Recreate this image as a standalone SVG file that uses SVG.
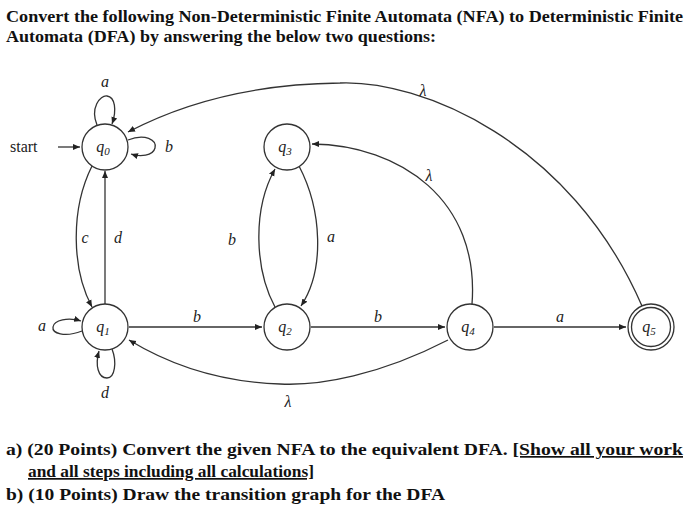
<svg xmlns="http://www.w3.org/2000/svg" width="695" height="515" viewBox="0 0 695 515">
<style>
.n{fill:#fff;stroke:#333;stroke-width:1.3}
.e{fill:none;stroke:#333;stroke-width:1.3}
.t{font-family:"Liberation Serif",serif;font-size:16px;font-style:italic;fill:#222;text-anchor:middle}
.h{font-family:"Liberation Serif",serif;font-size:17px;font-weight:bold;fill:#111}
</style>
<defs><marker id="ar" markerWidth="8" markerHeight="8" refX="7" refY="4" orient="auto" markerUnits="userSpaceOnUse"><path d="M0,1 L7,4 L0,7 z" fill="#222"/></marker></defs>
<rect width="695" height="515" fill="#fff"/>
<text class="h" x="6" y="22" textLength="677" lengthAdjust="spacingAndGlyphs">Convert the following Non-Deterministic Finite Automata (NFA) to Deterministic Finite</text>
<text class="h" x="6" y="42" textLength="430" lengthAdjust="spacingAndGlyphs">Automata (DFA) by answering the below two questions:</text>
<g id="connectors">
<path class="e" d="M58,147 L80,147" marker-end="url(#ar)"/>
<path class="e" d="M97,125 C90,108 100,95 107,96 C115,97 117,110 112,124" marker-end="url(#ar)"/>
<path class="e" d="M128,140 C145,133 157,140 155,148 C153,156 140,157 131,154" marker-end="url(#ar)"/>
<path class="e" d="M92,166 C70,210 72,270 92,307" marker-end="url(#ar)"/>
<path class="e" d="M105,304 L105,171" marker-end="url(#ar)"/>
<path class="e" d="M82,331 C64,338 52,333 53,327 C54,320 68,317 81,321" marker-end="url(#ar)"/>
<path class="e" d="M112,349 C117,362 115,378 107,378 C98,378 95,365 99,351" marker-end="url(#ar)"/>
<path class="e" d="M129,327 L262,327" marker-end="url(#ar)"/>
<path class="e" d="M275,307 C255,270 252,210 275,169" marker-end="url(#ar)"/>
<path class="e" d="M299,166 C322,210 325,270 301,306" marker-end="url(#ar)"/>
<path class="e" d="M311,327 L445,327" marker-end="url(#ar)"/>
<path class="e" d="M494,327 L626,327" marker-end="url(#ar)"/>
<path class="e" d="M472,304 C480,200 400,145 312,144" marker-end="url(#ar)"/>
<path class="e" d="M642,306 C570,140 420,80 340,83 C240,84 170,110 128,132" marker-end="url(#ar)"/>
<path class="e" d="M448,340 C380,375 320,386 280,384 C220,382 170,365 129,340" marker-end="url(#ar)"/>
</g>
<text x="10" y="152" font-family="Liberation Serif,serif" font-size="16" fill="#222">start</text>
<g id="q0"><circle class="n" cx="105" cy="147" r="23"/><text class="t" x="103" y="152">q<tspan font-size="11" dy="3">0</tspan></text></g>
<g id="q1"><circle class="n" cx="105" cy="327" r="23"/><text class="t" x="103" y="332">q<tspan font-size="11" dy="3">1</tspan></text></g>
<g id="q2"><circle class="n" cx="287" cy="327" r="23"/><text class="t" x="285" y="332">q<tspan font-size="11" dy="3">2</tspan></text></g>
<g id="q3"><circle class="n" cx="287" cy="147" r="23"/><text class="t" x="285" y="152">q<tspan font-size="11" dy="3">3</tspan></text></g>
<g id="q4"><circle class="n" cx="470" cy="327" r="23"/><text class="t" x="468" y="332">q<tspan font-size="11" dy="3">4</tspan></text></g>
<g id="q5"><circle class="n" cx="651" cy="327" r="23"/><circle class="n" cx="651" cy="327" r="19.5"/><text class="t" x="649" y="332">q<tspan font-size="11" dy="3">5</tspan></text></g>
<g id="labels">
<text class="t" x="105" y="87">a</text>
<text class="t" x="169" y="152">b</text>
<text class="t" x="85" y="243">c</text>
<text class="t" x="118" y="243">d</text>
<text class="t" x="42" y="331">a</text>
<text class="t" x="105" y="398">d</text>
<text class="t" x="197" y="322">b</text>
<text class="t" x="232" y="245">b</text>
<text class="t" x="331" y="242">a</text>
<text class="t" x="378" y="322">b</text>
<text class="t" x="560" y="322">a</text>
<text class="t" x="288" y="407">λ</text>
<text class="t" x="423" y="96">λ</text>
<text class="t" x="429" y="181">λ</text>
</g>
<text class="h" x="6" y="455" textLength="677" lengthAdjust="spacingAndGlyphs">a)  (20 Points) Convert the given NFA to the equivalent DFA. <tspan text-decoration="underline">[Show all your work</tspan></text>
<text class="h" x="28" y="477" text-decoration="underline" textLength="286" lengthAdjust="spacingAndGlyphs">and all steps including all calculations]</text>
<text class="h" x="6" y="500" textLength="439" lengthAdjust="spacingAndGlyphs">b)  (10 Points) Draw the transition graph for the DFA</text>
</svg>
